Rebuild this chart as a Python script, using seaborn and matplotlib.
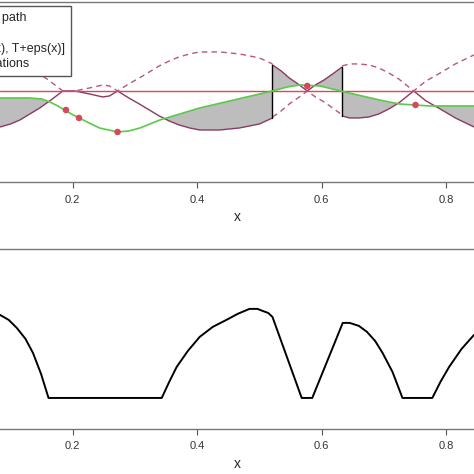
import numpy as np
import pandas as pd
import matplotlib
matplotlib.use("Agg")
import matplotlib.pyplot as plt
import seaborn as sns

sns.set_style("white")
plt.rcParams['font.family'] = ['Liberation Sans', 'DejaVu Sans']

# threshold level (top panel, height units)
T = 91

# sample path (green)
path_x = [0.083, 0.13, 0.150, 0.163, 0.176, 0.189, 0.21, 0.243, 0.272, 0.290, 0.308,
          0.34, 0.404, 0.521, 0.545, 0.565, 0.597, 0.637, 0.665, 0.693, 0.725,
          0.773, 0.845]
path_y = [84, 84, 83, 80, 76, 71, 64, 54, 50, 51, 54, 62, 74, 91, 95, 97, 96, 90,
          86, 82, 78, 76, 76]

# observations (red points)
obs_x = [0.189, 0.210, 0.272, 0.577, 0.751]
obs_y = [72, 64, 50, 96, 77]

# signed bound T-eps / T+eps (solid side); the two jumps split it in segments
bound_x = [0.083, 0.100, 0.115, 0.131, 0.147, 0.165, 0.184, 0.203, 0.227, 0.248,
           0.259, 0.272, 0.290, 0.307, 0.323, 0.339, 0.355, 0.371, 0.388, 0.404,
           0.436, 0.468, 0.500, 0.521, 0.5211, 0.535, 0.548, 0.562, 0.577, 0.590,
           0.604, 0.620, 0.633, 0.6331, 0.645, 0.660, 0.676, 0.692, 0.708, 0.724,
           0.736, 0.748, 0.768, 0.788, 0.815, 0.845]
bound_y = [55, 58, 62, 68, 74, 82, 91, 91, 88, 85, 86, 91, 84, 78, 72, 66, 61, 57,
           54, 52, 52, 54, 58, 64, 117, 111, 104, 98, 91, 97, 102, 109, 115, 66,
           64, 64, 65, 68, 73, 79, 85, 91, 81, 74, 64, 55]

# bottom panel curve
low_x = [0.083, 0.097, 0.110, 0.124, 0.136, 0.149, 0.161, 0.343, 0.355, 0.367,
         0.385, 0.404, 0.425, 0.447, 0.465, 0.484, 0.497, 0.505, 0.514, 0.521,
         0.568, 0.585, 0.634, 0.645, 0.660, 0.673, 0.686, 0.698, 0.714, 0.730,
         0.778, 0.791, 0.805, 0.825, 0.845]
low_y = [114, 109, 101, 90, 76, 55, 31, 31, 47, 62, 78, 92, 102, 109, 115, 120,
         120, 118, 116, 112, 31, 31, 106, 106, 103, 97, 88, 76, 57, 31, 31, 47,
         62, 80, 94]

bx = np.array(bound_x)
by = np.array(bound_y, dtype=float)
mirror = 2 * T - by

fig = plt.figure(figsize=(4.74, 4.74), dpi=100)
ax1 = fig.add_axes([0, 0.616, 1, 0.38])
ax2 = fig.add_axes([0, 0.095, 1, 0.38])

# shaded regions between bound and sample path
xs = np.linspace(0.083, 0.845, 2000)
segs = [(0, 24), (24, 33), (33, len(bound_x))]
for a, b in segs:
    sx = bx[a:b]
    sub = xs[(xs >= sx[0]) & (xs <= sx[-1])]
    s_y = np.interp(sub, sx, by[a:b])
    g_y = np.interp(sub, path_x, path_y)
    ax1.fill_between(sub, s_y, g_y, where=np.abs(s_y - T) > np.abs(g_y - T),
                     color="#bdbdbd", edgecolor="none", interpolate=True)
    sns.lineplot(x=sx, y=by[a:b], ax=ax1, color="#8b3a62", lw=1, sort=False)
    sns.lineplot(x=sx, y=mirror[a:b], ax=ax1, color="#b5577f", lw=1,
                 linestyle=(0, (4, 3)), sort=False)
# vertical jumps
for xj, y0, y1 in [(0.521, 64, 117), (0.633, 115, 66)]:
    ax1.plot([xj, xj], [min(y0, y1), max(y0, y1)], color="black", lw=1)

ax1.axhline(T, color="#d9475a", lw=1)
sns.lineplot(x=path_x, y=path_y, ax=ax1, color="#5cc94a", lw=1.2)
sns.scatterplot(x=obs_x, y=obs_y, ax=ax1, color="#d9475a", s=22, zorder=5,
                edgecolor="none")

sns.lineplot(x=low_x, y=low_y, ax=ax2, color="black", lw=1.4)

handles = [plt.Line2D([], [], color="#5cc94a"), plt.Line2D([], [], color="#d9475a"),
           plt.Line2D([], [], color="#b5577f", ls="--"),
           plt.Line2D([], [], color="#d9475a", marker="o", ls="none")]
fig.legend(handles, ["Sample path", "T", "[T-eps(x), T+eps(x)]", "Observations"],
           loc="upper right", bbox_to_anchor=(77 / 474, 1.0), fontsize=9,
           frameon=True, fancybox=False, edgecolor="#555555", framealpha=1,
           borderpad=0.5, labelspacing=0.25, handlelength=2.0)

for ax in (ax1, ax2):
    ax.set_xlim(0.083, 0.845)
    ax.set_ylim(0, 180)
    ax.set_yticks([])
    ax.set_xticks([0.2, 0.4, 0.6, 0.8])
    ax.set_xticklabels(["0.2", "0.4", "0.6", "0.8"], fontsize=8, color="#333333")
    ax.tick_params(axis="x", direction="out", length=4, width=0.8, color="#555555",
                   bottom=True, pad=5)
    ax.set_xlabel("x", fontsize=10, labelpad=4)
    ax.spines["left"].set_visible(False)
    ax.spines["right"].set_visible(False)
    for s in ("top", "bottom"):
        ax.spines[s].set_color("#777777")
        ax.spines[s].set_linewidth(1.0)

fig.savefig("out.png", dpi=100)
